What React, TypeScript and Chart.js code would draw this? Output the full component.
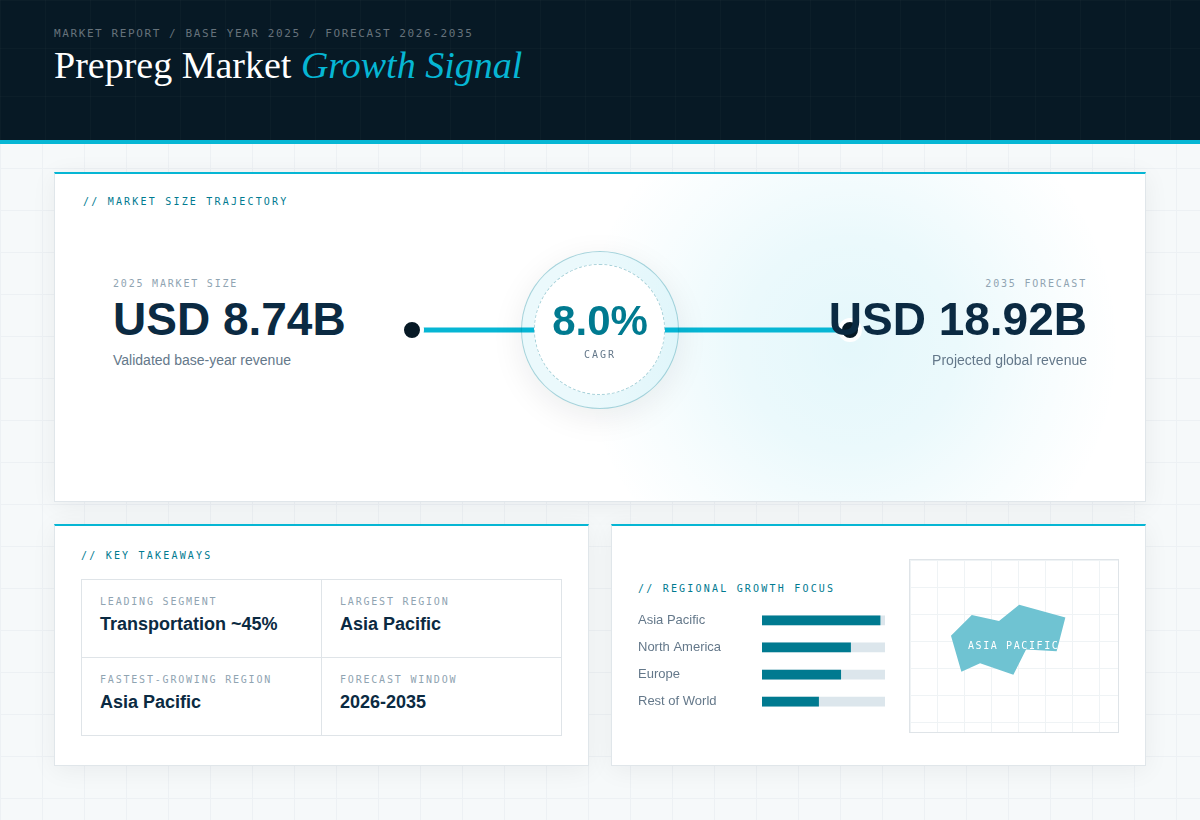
import React, { useEffect, useRef } from "react";
import { Chart, registerables } from "chart.js";

Chart.register(...registerables);

const MONO = '"DejaVu Sans Mono", monospace';
const SANS = '"Liberation Sans", Arial, sans-serif';
const SERIF = '"Liberation Serif", Georgia, serif';

const TEAL = "#06b6d4";
const DEEP_TEAL = "#007a90";
const NAVY = "#0b2a42";
const SLATE = "#64788a";
const MUTED = "#90a4b2";

const trajectoryLabels = ["2025", "2035"];
const trajectoryLevel = [1, 1];

const regions = ["Asia Pacific", "North America", "Europe", "Rest of World"];
const regionValues = [96, 72, 64, 46];
const regionTrack = [100, 100, 100, 100];

const mapX = [29.7, 42.8, 52.5, 74.7, 70.5, 55.8, 49.7, 33.7, 24.7, 19.7, 29.7];
const mapY = [32, 35.5, 26, 33.5, 53, 52, 66.7, 60, 65, 44, 32];

const takeaways = [
  { label: "LEADING SEGMENT", value: "Transportation ~45%" },
  { label: "LARGEST REGION", value: "Asia Pacific" },
  { label: "FASTEST-GROWING REGION", value: "Asia Pacific" },
  { label: "FORECAST WINDOW", value: "2026-2035" },
];

const hiddenPlugins = { legend: { display: false }, tooltip: { enabled: false } };

const TrajectoryLine: React.FC = () => {
  const ref = useRef<HTMLCanvasElement>(null);

  useEffect(() => {
    if (!ref.current) return;
    const chart = new Chart(ref.current, {
      type: "line",
      data: {
        labels: trajectoryLabels,
        datasets: [
          {
            data: trajectoryLevel,
            borderColor: TEAL,
            borderWidth: 5,
            clip: false,
            pointRadius: 10,
            pointBorderWidth: 4,
            pointBackgroundColor: "#071925",
            pointBorderColor: "#ffffff",
          },
        ],
      },
      options: {
        responsive: false,
        animation: false,
        events: [],
        layout: { padding: { left: 20, right: 20 } },
        plugins: hiddenPlugins,
        scales: {
          x: { display: false },
          y: { display: false, min: 0, max: 2 },
        },
      },
    });
    return () => chart.destroy();
  }, []);

  return <canvas ref={ref} width={478} height={40} style={{ position: "absolute", left: 392, top: 310 }} />;
};

const RegionBars: React.FC = () => {
  const ref = useRef<HTMLCanvasElement>(null);

  useEffect(() => {
    if (!ref.current) return;
    const chart = new Chart(ref.current, {
      type: "bar",
      data: {
        labels: regions,
        datasets: [
          { data: regionValues, backgroundColor: DEEP_TEAL, barThickness: 9, grouped: false, order: 1 },
          { data: regionTrack, backgroundColor: "#dce6ec", barThickness: 9, grouped: false, order: 2 },
        ],
      },
      options: {
        indexAxis: "y",
        responsive: false,
        animation: false,
        events: [],
        plugins: hiddenPlugins,
        scales: {
          x: { display: false, min: 0, max: 100 },
          y: {
            afterFit: (axis) => {
              axis.width = 124;
            },
            border: { display: false },
            grid: { display: false },
            ticks: {
              crossAlign: "far",
              color: SLATE,
              padding: 0,
              font: { family: SANS, size: 13 },
            },
          },
        },
      },
    });
    return () => chart.destroy();
  }, []);

  return <canvas ref={ref} width={247} height={124} style={{ position: "absolute", left: 26, top: 73 }} />;
};

const RegionMap: React.FC = () => {
  const ref = useRef<HTMLCanvasElement>(null);

  useEffect(() => {
    if (!ref.current) return;
    const chart = new Chart(ref.current, {
      type: "scatter",
      data: {
        datasets: [
          {
            data: mapX.map((x, i) => ({ x, y: mapY[i] })),
            showLine: true,
            fill: "shape",
            borderWidth: 0,
            pointRadius: 0,
            backgroundColor: "#6fc3d2",
          },
        ],
      },
      options: {
        responsive: false,
        animation: false,
        events: [],
        plugins: hiddenPlugins,
        scales: {
          x: { display: false, min: 0, max: 100 },
          y: { display: false, min: 0, max: 100, reverse: true },
        },
      },
    });
    return () => chart.destroy();
  }, []);

  return <canvas ref={ref} width={208} height={172} style={{ position: "absolute", left: 0, top: 0 }} />;
};

const text = (
  left: number,
  top: number,
  font: string,
  size: number,
  color: string,
  extra: React.CSSProperties = {},
): React.CSSProperties => ({
  position: "absolute",
  left,
  top,
  fontFamily: font,
  fontSize: size,
  color,
  lineHeight: `${Math.round(size * 1.2)}px`,
  whiteSpace: "nowrap",
  ...extra,
});

const card = (left: number, top: number, width: number, height: number): React.CSSProperties => ({
  position: "absolute",
  left,
  top,
  width,
  height,
  boxSizing: "border-box",
  background: "#ffffff",
  border: "1px solid #e0e6ea",
  borderTop: `2px solid ${TEAL}`,
  boxShadow: "0 4px 24px rgba(6,24,38,0.06)",
  overflow: "hidden",
});

const heading = (left: number, top: number): React.CSSProperties =>
  text(left, top, MONO, 10, DEEP_TEAL, { letterSpacing: "2.2px" });

const App: React.FC = () => {
  return (
    <div
      style={{
        position: "absolute",
        left: 0,
        top: 0,
        width: 1200,
        height: 820,
        overflow: "hidden",
        backgroundColor: "#f6f9fa",
        backgroundImage:
          "linear-gradient(#edf1f4 1px, transparent 1px), linear-gradient(90deg, #edf1f4 1px, transparent 1px)",
        backgroundSize: "42px 42px",
      }}
    >
      <div
        style={{
          position: "absolute",
          left: 0,
          top: 0,
          width: 1200,
          height: 144,
          boxSizing: "border-box",
          borderBottom: `4px solid ${TEAL}`,
          backgroundColor: "#071925",
          backgroundImage:
            "linear-gradient(rgba(255,255,255,0.018) 1px, transparent 1px), linear-gradient(90deg, rgba(255,255,255,0.018) 1px, transparent 1px)",
          backgroundSize: "45px 48px",
        }}
      >
        <div style={text(54, 27, MONO, 11, "#66727b", { letterSpacing: "1.6px" })}>
          MARKET REPORT / BASE YEAR 2025 / FORECAST 2026-2035
        </div>
        <div style={text(54, 42, SERIF, 38, "#ffffff")}>
          Prepreg Market <span style={{ color: TEAL, fontStyle: "italic" }}>Growth Signal</span>
        </div>
      </div>

      <div style={card(54, 172, 1092, 330)}>
        <div
          style={{
            position: "absolute",
            inset: 0,
            background:
              "radial-gradient(circle at 795px 171px, rgba(0,180,216,0.105) 0px, rgba(0,180,216,0.08) 108px, rgba(0,180,216,0.035) 190px, rgba(0,180,216,0) 270px)",
          }}
        />
      </div>
      <div style={heading(83, 196)}>// MARKET SIZE TRAJECTORY</div>
      <TrajectoryLine />
      <div style={text(113, 278, MONO, 10, MUTED, { letterSpacing: "1.8px" })}>2025 MARKET SIZE</div>
      <div style={text(113, 292, SANS, 46, NAVY, { fontWeight: 700 })}>USD 8.74B</div>
      <div style={text(113, 352, SANS, 14, SLATE)}>Validated base-year revenue</div>
      <div style={text(0, 278, MONO, 10, MUTED, { letterSpacing: "1.8px", left: "auto", right: 113 })}>
        2035 FORECAST
      </div>
      <div style={text(0, 292, SANS, 46, NAVY, { fontWeight: 700, left: "auto", right: 113 })}>USD 18.92B</div>
      <div style={text(0, 352, SANS, 14, SLATE, { left: "auto", right: 113 })}>Projected global revenue</div>

      <div
        style={{
          position: "absolute",
          left: 521,
          top: 251,
          width: 158,
          height: 158,
          boxSizing: "border-box",
          borderRadius: "50%",
          border: "1px solid rgba(0,122,144,0.3)",
          background: "rgba(0,180,216,0.08)",
          boxShadow: "0 8px 32px rgba(6,24,38,0.08)",
        }}
      />
      <div
        style={{
          position: "absolute",
          left: 534,
          top: 264,
          width: 131,
          height: 131,
          boxSizing: "border-box",
          borderRadius: "50%",
          border: "1px dashed rgba(0,122,144,0.35)",
          background: "#ffffff",
        }}
      />
      <div style={text(0, 296, SANS, 42, DEEP_TEAL, { fontWeight: 700, width: 1200, textAlign: "center" })}>8.0%</div>
      <div style={text(0, 349, MONO, 10, SLATE, { letterSpacing: "2px", width: 1200, textAlign: "center" })}>CAGR</div>

      <div style={card(54, 524, 535, 242)} />
      <div style={heading(81, 550)}>// KEY TAKEAWAYS</div>
      <div
        style={{
          position: "absolute",
          left: 81,
          top: 579,
          width: 481,
          height: 157,
          boxSizing: "border-box",
          border: "1px solid #dfe4e8",
        }}
      >
        <div style={{ position: "absolute", left: 239, top: 0, width: 1, height: 155, background: "#dfe4e8" }} />
        <div style={{ position: "absolute", left: 0, top: 77, width: 479, height: 1, background: "#dfe4e8" }} />
        {takeaways.map((t, i) => {
          const x = i % 2 === 0 ? 18 : 258;
          const y = i < 2 ? 16 : 94;
          return (
            <React.Fragment key={t.label}>
              <div style={text(x, y, MONO, 10, MUTED, { letterSpacing: "1.8px" })}>{t.label}</div>
              <div style={text(x, y + 17, SANS, 18, NAVY, { fontWeight: 700 })}>{t.value}</div>
            </React.Fragment>
          );
        })}
      </div>

      <div style={card(611, 524, 535, 242)}>
        <RegionBars />
        <div
          style={{
            position: "absolute",
            left: 297,
            top: 33,
            width: 210,
            height: 174,
            boxSizing: "border-box",
            border: "1px solid #dfe4e8",
            backgroundImage:
              "linear-gradient(#eff3f5 1px, transparent 1px), linear-gradient(90deg, #eff3f5 1px, transparent 1px)",
            backgroundSize: "27px 27px",
          }}
        >
          <RegionMap />
          <div style={text(58, 80, MONO, 10, "#ffffff", { letterSpacing: "1.6px" })}>ASIA PACIFIC</div>
        </div>
      </div>
      <div style={heading(638, 583)}>// REGIONAL GROWTH FOCUS</div>
    </div>
  );
};

export default App;
